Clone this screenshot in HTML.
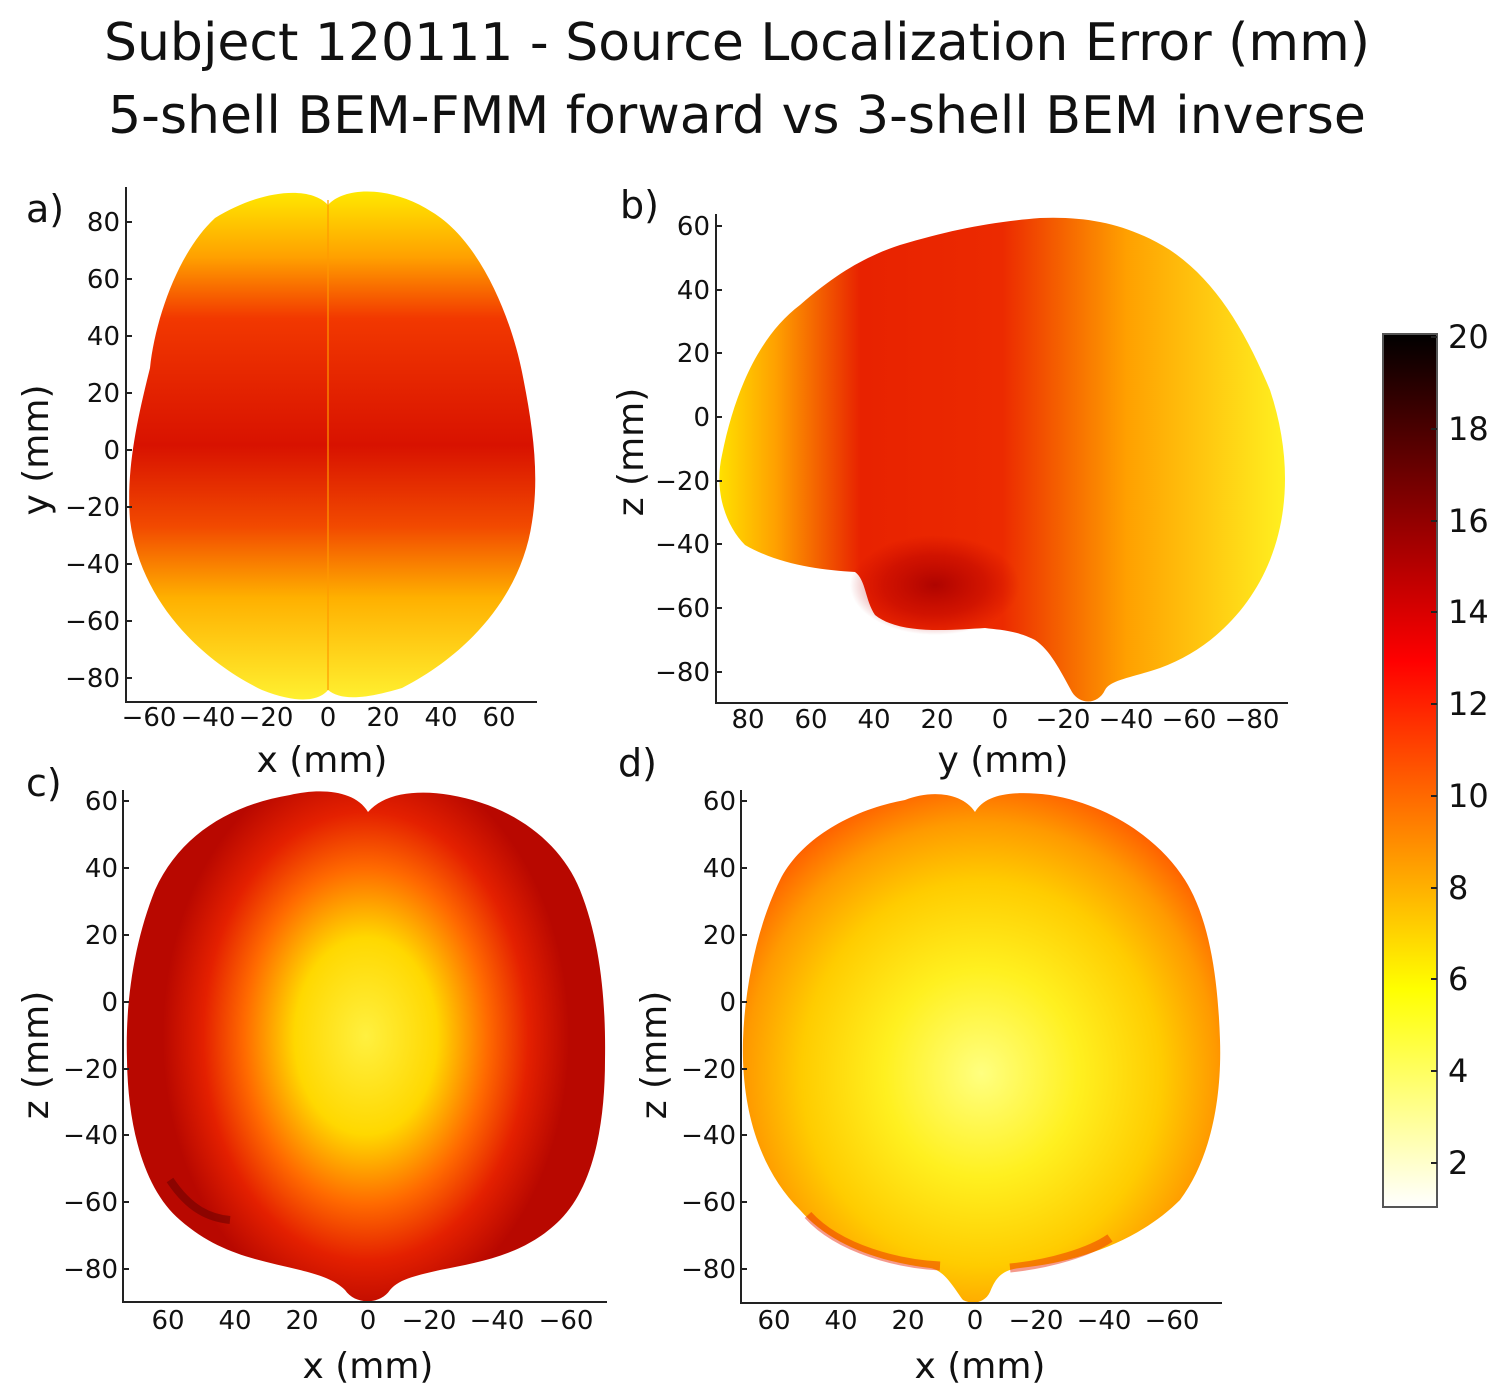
<!DOCTYPE html>
<html><head><meta charset="utf-8"><style>
html,body{margin:0;padding:0;background:#fff;}
svg{display:block;font-family:"DejaVu Sans","Liberation Sans",sans-serif;}
.t{font-size:26px;fill:#111;}
.al{font-size:36px;fill:#111;}
.pl{font-size:38px;fill:#111;}
</style></head><body>
<svg width="1503" height="1394" viewBox="0 0 1503 1394" xmlns="http://www.w3.org/2000/svg">
<defs>
<linearGradient id="ga" x1="0" y1="0" x2="0" y2="1">
<stop offset="0" stop-color="#ffe800"/><stop offset="0.13" stop-color="#ffa000"/><stop offset="0.25" stop-color="#f23800"/>
<stop offset="0.5" stop-color="#d81200"/><stop offset="0.66" stop-color="#f24a00"/><stop offset="0.8" stop-color="#ffb000"/><stop offset="1" stop-color="#fff030"/>
</linearGradient>
<linearGradient id="gb" x1="0" y1="0" x2="1" y2="0">
<stop offset="0" stop-color="#ffe000"/><stop offset="0.1" stop-color="#ffa000"/><stop offset="0.25" stop-color="#e82200"/>
<stop offset="0.5" stop-color="#ec2a00"/><stop offset="0.72" stop-color="#ffa000"/><stop offset="1" stop-color="#fff020"/>
</linearGradient>
<radialGradient id="gbd" cx="0.5" cy="0.5" r="0.5">
<stop offset="0" stop-color="#a80000" stop-opacity="0.9"/><stop offset="0.6" stop-color="#b80000" stop-opacity="0.5"/><stop offset="1" stop-color="#c00000" stop-opacity="0"/>
</radialGradient>
<radialGradient id="gc" cx="0.5" cy="0.48" r="0.5" gradientTransform="translate(0.5 0.48) scale(0.85 1.1) translate(-0.5 -0.48)">
<stop offset="0" stop-color="#fff040"/><stop offset="0.35" stop-color="#ffd800"/><stop offset="0.6" stop-color="#ff6a00"/>
<stop offset="0.8" stop-color="#e42000"/><stop offset="1" stop-color="#b80800"/>
</radialGradient>
<radialGradient id="gd" cx="0.5" cy="0.55" r="0.58">
<stop offset="0" stop-color="#ffff80"/><stop offset="0.35" stop-color="#fff020"/><stop offset="0.65" stop-color="#ffcc00"/>
<stop offset="0.85" stop-color="#ff9a00"/><stop offset="1" stop-color="#ff6000"/>
</radialGradient>
<linearGradient id="gcb" x1="0" y1="0" x2="0" y2="1">
<stop offset="0" stop-color="#000"/><stop offset="0.375" stop-color="#ff0000"/><stop offset="0.75" stop-color="#ffff00"/><stop offset="1" stop-color="#ffffff"/>
</linearGradient>
</defs>

<text x="737" y="60" text-anchor="middle" style="font-size:52px" fill="#111">Subject 120111 - Source Localization Error (mm)</text>
<text x="737" y="133" text-anchor="middle" style="font-size:52px" fill="#111">5-shell BEM-FMM forward vs 3-shell BEM inverse</text>

<!-- Panel a -->
<path d="M328,205 C310,185 260,190 215,218 C178,252 155,320 150,368 C137,420 126,470 130,520 C140,600 200,660 262,690 C300,705 320,700 328,690 C340,700 362,700 402,688 C472,652 522,592 532,522 C540,472 532,422 522,372 C512,322 482,242 432,212 C392,186 345,186 328,205 Z" fill="url(#ga)"/>
<line x1="328" y1="200" x2="328" y2="690" stroke="#ff9a00" stroke-width="2" opacity="0.6"/>
<path d="M126,187 V702 H537" fill="none" stroke="#222" stroke-width="2"/>
<g class="t" text-anchor="end">
<text x="120" y="231">80</text><text x="120" y="288">60</text><text x="120" y="345">40</text><text x="120" y="402">20</text><text x="120" y="459">0</text>
<text x="120" y="516">−20</text><text x="120" y="573">−40</text><text x="120" y="630">−60</text><text x="120" y="687">−80</text>
</g>
<g stroke="#222" stroke-width="2"><line x1="126" y1="222" x2="132" y2="222"/><line x1="126" y1="279" x2="132" y2="279"/><line x1="126" y1="336" x2="132" y2="336"/><line x1="126" y1="393" x2="132" y2="393"/><line x1="126" y1="450" x2="132" y2="450"/><line x1="126" y1="507" x2="132" y2="507"/><line x1="126" y1="564" x2="132" y2="564"/><line x1="126" y1="621" x2="132" y2="621"/><line x1="126" y1="678" x2="132" y2="678"/></g>
<g class="t" text-anchor="middle">
<text x="149" y="726">−60</text><text x="208" y="726">−40</text><text x="266" y="726">−20</text><text x="328" y="726">0</text><text x="383" y="726">20</text><text x="441" y="726">40</text><text x="499" y="726">60</text>
</g>
<text class="al" x="322" y="772" text-anchor="middle">x (mm)</text>
<text class="al" transform="translate(48,450) rotate(-90)" text-anchor="middle">y (mm)</text>
<text class="pl" x="26" y="222">a)</text>

<!-- Panel b -->
<path d="M722,455 C735,390 760,335 800,305 C840,270 870,255 900,245 C950,230 990,222 1040,218 C1090,216 1130,225 1170,250 C1215,280 1245,330 1270,390 C1290,450 1290,510 1270,560 C1250,610 1210,650 1160,668 C1130,678 1110,680 1105,690 C1098,705 1080,705 1072,692 C1060,670 1050,650 1035,640 C1015,630 1000,630 985,628 C950,630 900,635 875,615 C865,600 866,580 855,572 C820,570 780,565 745,545 C725,525 714,490 722,455 Z" fill="url(#gb)"/>
<ellipse cx="935" cy="585" rx="85" ry="50" fill="url(#gbd)"/>
<path d="M716,214 V703 H1288" fill="none" stroke="#222" stroke-width="2"/>
<g class="t" text-anchor="end">
<text x="710" y="235">60</text><text x="710" y="299">40</text><text x="710" y="362">20</text><text x="710" y="426">0</text>
<text x="710" y="490">−20</text><text x="710" y="553">−40</text><text x="710" y="617">−60</text><text x="710" y="681">−80</text>
</g>
<g stroke="#222" stroke-width="2"><line x1="716" y1="226" x2="722" y2="226"/><line x1="716" y1="290" x2="722" y2="290"/><line x1="716" y1="353" x2="722" y2="353"/><line x1="716" y1="417" x2="722" y2="417"/><line x1="716" y1="481" x2="722" y2="481"/><line x1="716" y1="544" x2="722" y2="544"/><line x1="716" y1="608" x2="722" y2="608"/><line x1="716" y1="672" x2="722" y2="672"/></g>
<g class="t" text-anchor="middle">
<text x="748" y="728">80</text><text x="811" y="728">60</text><text x="874" y="728">40</text><text x="937" y="728">20</text><text x="1000" y="728">0</text>
<text x="1063" y="728">−20</text><text x="1126" y="728">−40</text><text x="1189" y="728">−60</text><text x="1252" y="728">−80</text>
</g>
<text class="al" x="1003" y="772" text-anchor="middle">y (mm)</text>
<text class="al" transform="translate(643,452) rotate(-90)" text-anchor="middle">z (mm)</text>
<text class="pl" x="620" y="218">b)</text>

<!-- Panel c -->
<path d="M368,812 C355,790 320,788 290,795 C230,805 180,835 155,890 C135,940 125,1000 127,1060 C128,1130 145,1190 180,1220 C220,1255 260,1260 300,1270 C320,1275 335,1280 345,1290 C355,1305 380,1305 390,1290 C400,1278 420,1275 440,1270 C480,1262 525,1255 560,1220 C595,1185 605,1120 605,1060 C606,1000 600,940 580,890 C560,840 510,805 450,795 C420,790 385,792 368,812 Z" fill="url(#gc)"/>
<path d="M170,1180 C190,1210 210,1218 230,1220" stroke="#600000" stroke-width="8" fill="none" opacity="0.5"/>
<path d="M123,790 V1302 H607" fill="none" stroke="#222" stroke-width="2"/>
<g class="t" text-anchor="end">
<text x="118" y="810">60</text><text x="118" y="877">40</text><text x="118" y="944">20</text><text x="118" y="1011">0</text>
<text x="118" y="1078">−20</text><text x="118" y="1144">−40</text><text x="118" y="1211">−60</text><text x="118" y="1278">−80</text>
</g>
<g stroke="#222" stroke-width="2"><line x1="123" y1="801" x2="129" y2="801"/><line x1="123" y1="868" x2="129" y2="868"/><line x1="123" y1="935" x2="129" y2="935"/><line x1="123" y1="1002" x2="129" y2="1002"/><line x1="123" y1="1069" x2="129" y2="1069"/><line x1="123" y1="1135" x2="129" y2="1135"/><line x1="123" y1="1202" x2="129" y2="1202"/><line x1="123" y1="1269" x2="129" y2="1269"/></g>
<g class="t" text-anchor="middle">
<text x="168" y="1329">60</text><text x="235" y="1329">40</text><text x="302" y="1329">20</text><text x="368" y="1329">0</text>
<text x="429" y="1329">−20</text><text x="497" y="1329">−40</text><text x="566" y="1329">−60</text>
</g>
<text class="al" x="368" y="1378" text-anchor="middle">x (mm)</text>
<text class="al" transform="translate(48,1055) rotate(-90)" text-anchor="middle">z (mm)</text>
<text class="pl" x="26" y="796">c)</text>

<!-- Panel d -->
<path d="M975,812 C962,792 930,790 905,800 C850,810 800,840 780,880 C760,920 745,980 743,1040 C741,1110 760,1170 800,1210 C830,1245 880,1262 930,1268 C945,1270 955,1290 963,1300 C972,1305 985,1303 990,1292 C995,1280 1000,1270 1020,1268 C1080,1262 1140,1240 1180,1200 C1210,1160 1222,1100 1220,1040 C1218,980 1210,920 1185,880 C1160,840 1110,805 1050,795 C1010,790 985,795 975,812 Z" fill="url(#gd)"/>
<path d="M808,1215 C840,1250 900,1264 940,1266 M1010,1268 C1050,1264 1090,1252 1110,1238" stroke="#e82000" stroke-width="9" fill="none" opacity="0.45"/>
<path d="M741,790 V1303 H1222" fill="none" stroke="#222" stroke-width="2"/>
<g class="t" text-anchor="end">
<text x="736" y="810">60</text><text x="736" y="877">40</text><text x="736" y="944">20</text><text x="736" y="1011">0</text>
<text x="736" y="1078">−20</text><text x="736" y="1144">−40</text><text x="736" y="1211">−60</text><text x="736" y="1278">−80</text>
</g>
<g stroke="#222" stroke-width="2"><line x1="741" y1="801" x2="747" y2="801"/><line x1="741" y1="868" x2="747" y2="868"/><line x1="741" y1="935" x2="747" y2="935"/><line x1="741" y1="1002" x2="747" y2="1002"/><line x1="741" y1="1069" x2="747" y2="1069"/><line x1="741" y1="1135" x2="747" y2="1135"/><line x1="741" y1="1202" x2="747" y2="1202"/><line x1="741" y1="1269" x2="747" y2="1269"/></g>
<g class="t" text-anchor="middle">
<text x="774" y="1329">60</text><text x="841" y="1329">40</text><text x="908" y="1329">20</text><text x="975" y="1329">0</text>
<text x="1036" y="1329">−20</text><text x="1104" y="1329">−40</text><text x="1172" y="1329">−60</text>
</g>
<text class="al" x="980" y="1378" text-anchor="middle">x (mm)</text>
<text class="al" transform="translate(666,1055) rotate(-90)" text-anchor="middle">z (mm)</text>
<text class="pl" x="618" y="776">d)</text>

<!-- Colorbar -->
<rect x="1383" y="334" width="54" height="873" fill="url(#gcb)" stroke="#555" stroke-width="2"/>
<g stroke="#222" stroke-width="2">
<line x1="1431" y1="337" x2="1437" y2="337"/><line x1="1431" y1="429" x2="1437" y2="429"/><line x1="1431" y1="521" x2="1437" y2="521"/><line x1="1431" y1="612" x2="1437" y2="612"/><line x1="1431" y1="704" x2="1437" y2="704"/><line x1="1431" y1="796" x2="1437" y2="796"/><line x1="1431" y1="888" x2="1437" y2="888"/><line x1="1431" y1="979" x2="1437" y2="979"/><line x1="1431" y1="1071" x2="1437" y2="1071"/><line x1="1431" y1="1163" x2="1437" y2="1163"/>
</g>
<g style="font-size:32px" fill="#111">
<text x="1448" y="348">20</text><text x="1448" y="440">18</text><text x="1448" y="532">16</text><text x="1448" y="623">14</text><text x="1448" y="715">12</text><text x="1448" y="807">10</text>
<text x="1448" y="899">8</text><text x="1448" y="990">6</text><text x="1448" y="1082">4</text><text x="1448" y="1174">2</text>
</g>
</svg>
</body></html>
